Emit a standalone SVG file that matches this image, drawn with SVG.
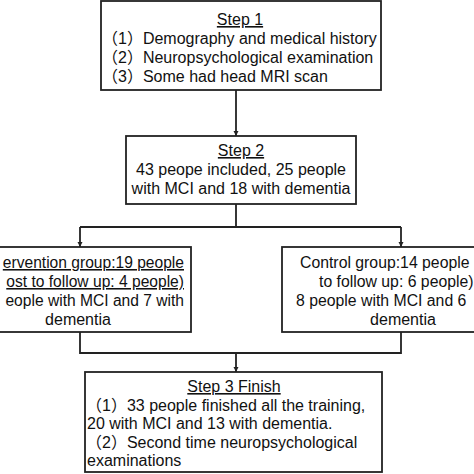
<svg xmlns="http://www.w3.org/2000/svg" width="474" height="474" viewBox="0 0 474 474">
<defs>
<style>
.box{fill:#fff;stroke:#222;stroke-width:1.8}
.t{font-family:"Liberation Sans",Arial,"Noto Sans CJK SC",sans-serif;font-size:16px;fill:#111}
.s{font-size:15.6px}
.c{text-anchor:middle}
.e{text-anchor:end}
.ln{fill:none;stroke:#222;stroke-width:1.8}
</style>
<marker id="ah" viewBox="0 0 10 10" refX="10" refY="5" markerWidth="5" markerHeight="6" markerUnits="userSpaceOnUse" orient="auto">
<path d="M0,0 L10,5 L0,10 z" fill="#222"/>
</marker>
</defs>
<rect width="474" height="474" fill="#fff"/>
<g id="connectors">
<path class="ln" d="M236,90 V136" marker-end="url(#ah)"/>
<path class="ln" d="M236,204 V227 M80,227 H401"/>
<path class="ln" d="M80,227 V247" marker-end="url(#ah)"/>
<path class="ln" d="M401,227 V247" marker-end="url(#ah)"/>
<path class="ln" d="M80,332 V353 H401 V332"/>
<path class="ln" d="M236,353 V372" marker-end="url(#ah)"/>
</g>
<g id="step1">
<rect class="box" x="101" y="1" width="280" height="89"/>
<text class="t c" x="240" y="25" text-decoration="underline">Step 1</text>
<text class="t" x="102" y="44">（1）Demography and medical history</text>
<text class="t" x="102" y="63">（2）Neuropsychological examination</text>
<text class="t" x="102" y="82">（3）Some had head MRI scan</text>
</g>
<g id="step2">
<rect class="box" x="126" y="136" width="230" height="68"/>
<text class="t c" x="241" y="156" text-decoration="underline">Step 2</text>
<text class="t c" x="241" y="175">43 peope included, 25 people</text>
<text class="t c" x="241" y="194">with MCI and 18 with dementia</text>
</g>
<g id="intervention">
<rect class="box" x="-31" y="247" width="222" height="85"/>
<text class="t s e" x="184" y="268" text-decoration="underline">ervention group:19 people</text>
<text class="t s e" x="184" y="287" text-decoration="underline">ost to follow up: 4 people)</text>
<text class="t s e" x="184" y="306">eople with MCI and 7 with</text>
<text class="t c" x="78" y="325">dementia</text>
</g>
<g id="control">
<rect class="box" x="282" y="247" width="240" height="85"/>
<text class="t" x="300" y="268" style="font-size:15.8px">Control group:14 people</text>
<text class="t" x="319" y="287" style="font-size:15.8px">to follow up: 6 people)</text>
<text class="t" x="296" y="306" style="font-size:15.8px">8 people with MCI and 6</text>
<text class="t c" x="403" y="325">dementia</text>
</g>
<g id="step3">
<rect class="box" x="85" y="372" width="297" height="100"/>
<text class="t c" x="234" y="392" text-decoration="underline">Step 3 Finish</text>
<text class="t" x="86" y="410.5">（1）33 people finished all the training,</text>
<text class="t" x="87" y="429">20 with MCI and 13 with dementia.</text>
<text class="t" x="86" y="447.5">（2）Second time neuropsychological</text>
<text class="t" x="87" y="466">examinations</text>
</g>
</svg>
